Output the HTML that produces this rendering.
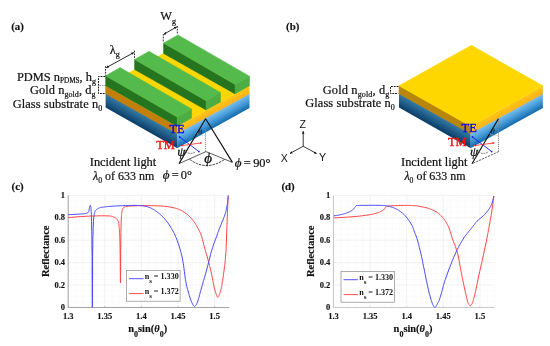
<!DOCTYPE html>
<html lang="en">
<head>
<meta charset="utf-8">
<title>Figure</title>
<style>
html,body{margin:0;padding:0;background:#fff;}
body{width:550px;height:346px;overflow:hidden;}
svg{display:block;}
text{font-family:"Liberation Serif","DejaVu Serif",serif;fill:#111;}
.pl{font-size:10.9px;font-weight:bold;stroke:#111;stroke-width:0.15px;}
.tx{font-size:12.4px;stroke:#111;stroke-width:0.22px;}
.sb{font-size:8px;}
.tk{font-size:8.5px;font-weight:bold;stroke:#111;stroke-width:0.12px;}
.al{font-size:10.4px;font-weight:bold;stroke:#111;stroke-width:0.15px;}
.lg{font-size:7.4px;font-weight:bold;}
.ss{font-family:"Liberation Sans","DejaVu Sans",sans-serif;font-size:10.6px;}
</style>
</head>
<body>
<svg width="550" height="346" viewBox="0 0 550 346">
<defs>
<marker id="ah" viewBox="0 0 6 6" refX="5" refY="3" markerWidth="3.2" markerHeight="3.2" orient="auto-start-reverse"><path d="M0 0.4 L6 3 L0 5.6 Z" fill="#111"/></marker>
<marker id="ahr" viewBox="0 0 6 6" refX="5" refY="3" markerWidth="3" markerHeight="3" orient="auto-start-reverse"><path d="M0 0.4 L6 3 L0 5.6 Z" fill="#ff2020"/></marker>
</defs>
<rect width="550" height="346" fill="#fff"/>

<g id="panel-a">
<linearGradient id="glLa" gradientUnits="userSpaceOnUse" x1="105.60" y1="93.70" x2="99.70" y2="104.20"><stop offset="0" stop-color="#347ca6"/><stop offset="1" stop-color="#0a3c68"/></linearGradient>
<linearGradient id="glRa" gradientUnits="userSpaceOnUse" x1="177.10" y1="133.70" x2="183.20" y2="144.60"><stop offset="0" stop-color="#7cc0ee"/><stop offset="0.5" stop-color="#479cd9"/><stop offset="1" stop-color="#166dac"/></linearGradient>
<linearGradient id="auRa" gradientUnits="userSpaceOnUse" x1="177.10" y1="126.20" x2="180.50" y2="132.20"><stop offset="0" stop-color="#ffc814"/><stop offset="1" stop-color="#f9b21c"/></linearGradient>
<polygon points="105.60,93.30 177.40,133.30 177.40,148.20 105.60,107.40" fill="url(#glLa)" stroke="none" stroke-width="0.5" stroke-linejoin="round"/>
<polygon points="177.10,133.30 249.50,93.60 249.50,107.90 177.10,148.20" fill="url(#glRa)" stroke="none" stroke-width="0.5" stroke-linejoin="round"/>
<polygon points="105.60,85.70 177.10,126.20 177.10,133.70 105.60,93.70" fill="#c2800a" stroke="#c2800a" stroke-width="0.5" stroke-linejoin="round"/>
<polygon points="177.10,126.20 249.50,85.80 249.50,94.00 177.10,133.70" fill="url(#auRa)" stroke="none" stroke-width="0.5" stroke-linejoin="round"/>
<polygon points="105.60,85.70 177.10,126.20 249.50,85.80 178.00,45.30" fill="#ffd700" stroke="#ffd700" stroke-width="0.5" stroke-linejoin="round"/>
<polygon points="163.52,43.08 235.02,84.38 235.02,93.88 163.52,53.38" fill="#25741f" stroke="#25741f" stroke-width="0.5" stroke-linejoin="round"/>
<polygon points="235.02,84.38 249.50,76.20 249.50,85.80 235.02,93.88" fill="#4bad43" stroke="#4bad43" stroke-width="0.5" stroke-linejoin="round"/>
<polygon points="163.52,43.08 178.00,34.90 249.50,76.20 235.02,84.38" fill="#54ba4c" stroke="#54ba4c" stroke-width="0.5" stroke-linejoin="round"/>
<polygon points="134.56,59.44 206.06,100.74 206.06,110.04 134.56,69.54" fill="#25741f" stroke="#25741f" stroke-width="0.5" stroke-linejoin="round"/>
<polygon points="206.06,100.74 220.54,92.56 220.54,101.96 206.06,110.04" fill="#4bad43" stroke="#4bad43" stroke-width="0.5" stroke-linejoin="round"/>
<polygon points="134.56,59.44 149.04,51.26 220.54,92.56 206.06,100.74" fill="#54ba4c" stroke="#54ba4c" stroke-width="0.5" stroke-linejoin="round"/>
<polygon points="105.60,75.80 177.10,117.10 177.10,126.20 105.60,85.70" fill="#25741f" stroke="#25741f" stroke-width="0.5" stroke-linejoin="round"/>
<polygon points="177.10,117.10 191.58,108.92 191.58,118.12 177.10,126.20" fill="#4bad43" stroke="#4bad43" stroke-width="0.5" stroke-linejoin="round"/>
<polygon points="105.60,75.80 120.08,67.62 191.58,108.92 177.10,117.10" fill="#54ba4c" stroke="#54ba4c" stroke-width="0.5" stroke-linejoin="round"/>
</g>
<g id="panel-b">
<linearGradient id="glLb" gradientUnits="userSpaceOnUse" x1="399.00" y1="93.70" x2="393.10" y2="104.20"><stop offset="0" stop-color="#347ca6"/><stop offset="1" stop-color="#0a3c68"/></linearGradient>
<linearGradient id="glRb" gradientUnits="userSpaceOnUse" x1="470.50" y1="133.70" x2="476.60" y2="144.60"><stop offset="0" stop-color="#7cc0ee"/><stop offset="0.5" stop-color="#479cd9"/><stop offset="1" stop-color="#166dac"/></linearGradient>
<linearGradient id="auRb" gradientUnits="userSpaceOnUse" x1="470.50" y1="126.20" x2="473.90" y2="132.20"><stop offset="0" stop-color="#ffc814"/><stop offset="1" stop-color="#f9b21c"/></linearGradient>
<polygon points="399.00,93.30 470.80,133.30 470.80,148.20 399.00,107.40" fill="url(#glLb)" stroke="none" stroke-width="0.5" stroke-linejoin="round"/>
<polygon points="470.50,133.30 542.90,93.60 542.90,107.90 470.50,148.20" fill="url(#glRb)" stroke="none" stroke-width="0.5" stroke-linejoin="round"/>
<polygon points="399.00,85.70 470.50,126.20 470.50,133.70 399.00,93.70" fill="#b8860b" stroke="#b8860b" stroke-width="0.5" stroke-linejoin="round"/>
<polygon points="470.50,126.20 542.90,85.80 542.90,94.00 470.50,133.70" fill="url(#auRb)" stroke="none" stroke-width="0.5" stroke-linejoin="round"/>
<polygon points="399.00,85.70 470.50,126.20 542.90,85.80 471.40,45.30" fill="#ffd700" stroke="#ffd700" stroke-width="0.5" stroke-linejoin="round"/>
</g>

<!-- panel labels -->
<text x="11.2" y="29.8" class="pl">(a)</text>
<text x="286" y="29.8" class="pl">(b)</text>
<text x="11.6" y="190.2" class="pl">(c)</text>
<text x="281.4" y="190.2" class="pl">(d)</text>

<!-- (a) layer labels -->
<text x="16.9" y="80.6" class="tx">PDMS n<tspan dy="2.6" font-size="7.2">PDMS</tspan><tspan dy="-2.6">, h</tspan><tspan dy="3" class="sb">g</tspan></text>
<text x="30" y="94.2" class="tx" textLength="65.5">Gold n<tspan dy="2.6" class="sb">gold</tspan><tspan dy="-2.6">, d</tspan><tspan dy="3" class="sb">g</tspan></text>
<text x="12.7" y="107.7" class="tx" textLength="89.5">Glass substrate n<tspan dy="2.8" class="sb">0</tspan></text>
<!-- brackets -->
<path d="M105.2 76.5 H98.5 V93.5 H105.2" fill="none" stroke="#111" stroke-width="1" stroke-dasharray="1.8 1"/>
<path d="M99.4 85.5 H105.2" fill="none" stroke="#666" stroke-width="0.7" stroke-dasharray="1.6 0.9"/>
<!-- lambda_g dimension -->
<path d="M105.6 66.2 V75.6 M134.5 50.6 V59" fill="none" stroke="#111" stroke-width="0.9" stroke-dasharray="1.7 1.1"/>
<line x1="106.4" y1="67.6" x2="133.7" y2="52.6" stroke="#111" stroke-width="0.9" marker-start="url(#ah)" marker-end="url(#ah)"/>
<text x="109.8" y="53.7" class="tx" font-size="12">λ<tspan dy="3.4" class="sb">g</tspan></text>
<!-- W_g dimension -->
<path d="M163.3 34 V42 M177.3 26 V34.4" fill="none" stroke="#111" stroke-width="0.9" stroke-dasharray="1.7 1.1"/>
<line x1="164" y1="34.2" x2="176.6" y2="26.9" stroke="#111" stroke-width="0.9" marker-start="url(#ah)" marker-end="url(#ah)"/>
<text x="160.2" y="20.1" class="tx" font-size="11.4">W<tspan dy="3.8" class="sb">g</tspan></text>

<!-- (a) incidence geometry -->
<g fill="none">
<line x1="205.5" y1="118.7" x2="205.5" y2="151.6" stroke="#8a8a8a" stroke-width="1" stroke-dasharray="1.2 0.9"/>
<path d="M206 151.6 L179 163.6 M206 151.6 L232.4 162.4" stroke="#333" stroke-width="0.8"/>
<path d="M205.6 118.7 L179 163.6 M205.6 118.7 L232.4 162.4" stroke="#111" stroke-width="1.15" stroke-linejoin="round"/>
<path d="M189.5 159.2 Q206 171.8 224.6 159.4" stroke="#2a2a2a" stroke-width="0.9" stroke-dasharray="2.6 0.9"/>
<path d="M197.2 133.2 Q201 136.6 205.7 135.2" stroke="#bbb" stroke-width="0.7" stroke-dasharray="1.6 0.8"/>
<path d="M185.6 152.2 Q190.6 154.6 195 152.2" stroke="#555" stroke-width="0.8" stroke-dasharray="1.8 0.8"/>
<line x1="179.8" y1="137.1" x2="198.8" y2="151.5" stroke="#1a1aff" stroke-width="0.9"/>
<line x1="180.8" y1="145.7" x2="201.6" y2="142.9" stroke="#ff2020" stroke-width="0.8" marker-start="url(#ahr)" marker-end="url(#ahr)"/>
</g>
<circle cx="179.7" cy="137" r="0.9" fill="#1a1aff"/><circle cx="198.9" cy="151.6" r="0.9" fill="#1a1aff"/>
<text x="169.4" y="133.4" class="tx" font-size="13.4" style="fill:#0a0ae6;stroke:#0a0ae6;stroke-width:0.4px">TE</text>
<text x="156.3" y="149" class="tx" font-size="13" style="fill:#f01414;stroke:#f01414;stroke-width:0.4px">TM</text>
<text x="177.2" y="155.6" font-size="13" font-style="italic" stroke="#111" stroke-width="0.3">ψ</text>
<text x="198.2" y="134.8" font-size="7.5" font-style="italic">θ</text>
<text x="204.2" y="163" font-size="15" font-style="italic" stroke="#111" stroke-width="0.3">ϕ</text>
<text x="162.8" y="179.4" class="tx"><tspan font-style="italic" font-size="13">ϕ</tspan><tspan dx="2.2">=</tspan><tspan dx="2">0°</tspan></text>
<text x="234.8" y="167.4" class="tx"><tspan font-style="italic" font-size="13">ϕ</tspan><tspan dx="2.2">=</tspan><tspan dx="2.4">90°</tspan></text>
<text x="89.8" y="165.8" class="tx">Incident light</text>
<text x="93.1" y="180" class="tx" textLength="61.1" lengthAdjust="spacingAndGlyphs"><tspan font-style="italic">λ</tspan><tspan dy="2.8" class="sb">0</tspan><tspan dy="-2.8"> of 633 nm</tspan></text>

<!-- axes triad -->
<g stroke="#222" stroke-width="0.9" fill="none">
<line x1="303.2" y1="146.3" x2="303.2" y2="131.4" marker-end="url(#ah)"/>
<line x1="303.2" y1="146.3" x2="290" y2="153.4" marker-end="url(#ah)"/>
<line x1="303.2" y1="146.3" x2="316.4" y2="153.4" marker-end="url(#ah)"/>
</g>
<text x="299.4" y="127.9" class="ss">Z</text>
<text x="280.8" y="161.6" class="ss">X</text>
<text x="318.9" y="160.5" class="ss">Y</text>

<!-- (b) layer labels -->
<text x="322.7" y="93.9" class="tx" textLength="66.6">Gold n<tspan dy="2.6" class="sb">gold</tspan><tspan dy="-2.6">, d</tspan><tspan dy="3" class="sb">g</tspan></text>
<text x="305.3" y="107.4" class="tx" textLength="89.4">Glass substrate n<tspan dy="2.8" class="sb">0</tspan></text>
<path d="M398.4 86.5 H390.5 V93.5 H398.4" fill="none" stroke="#111" stroke-width="1" stroke-dasharray="1.8 1"/>

<!-- (b) incidence geometry -->
<g fill="none">
<line x1="498.5" y1="118.7" x2="498.5" y2="151.6" stroke="#808080" stroke-width="1" stroke-dasharray="1.2 0.9"/>
<path d="M498.6 151.6 L472 163.8" stroke="#333" stroke-width="0.8" stroke-dasharray="2.2 1"/>
<path d="M498.4 118.7 L472 163.8" stroke="#111" stroke-width="1.15"/>
<path d="M489.6 133.2 Q493.6 136.6 498.4 135.2" stroke="#bbb" stroke-width="0.7" stroke-dasharray="1.6 0.8"/>
<path d="M478.4 152.2 Q483.4 154.6 487.8 152.2" stroke="#555" stroke-width="0.8" stroke-dasharray="1.8 0.8"/>
<line x1="472.6" y1="137.1" x2="491.6" y2="151.5" stroke="#1a1aff" stroke-width="0.9"/>
<line x1="473.6" y1="145.7" x2="494.4" y2="142.9" stroke="#ff2020" stroke-width="0.8" marker-start="url(#ahr)" marker-end="url(#ahr)"/>
</g>
<circle cx="472.5" cy="137" r="0.9" fill="#1a1aff"/><circle cx="491.7" cy="151.6" r="0.9" fill="#1a1aff"/>
<text x="461.6" y="132.4" class="tx" font-size="13.4" style="fill:#0a0ae6;stroke:#0a0ae6;stroke-width:0.4px">TE</text>
<text x="448" y="146.2" class="tx" font-size="13" style="fill:#f01414;stroke:#f01414;stroke-width:0.4px">TM</text>
<text x="470" y="155.6" font-size="13" font-style="italic" stroke="#111" stroke-width="0.3">ψ</text>
<text x="491" y="134.2" font-size="7.5" font-style="italic">θ</text>
<text x="401" y="166.4" class="tx">Incident light</text>
<text x="404.4" y="180" class="tx" textLength="61.1" lengthAdjust="spacingAndGlyphs"><tspan font-style="italic">λ</tspan><tspan dy="2.8" class="sb">0</tspan><tspan dy="-2.8"> of 633 nm</tspan></text>

<g id="chart-c">
<line x1="68.2" y1="195.4" x2="68.2" y2="307.5" stroke="#ececec" stroke-width="0.7"/>
<line x1="75.5" y1="195.4" x2="75.5" y2="307.5" stroke="#f7f7f7" stroke-width="0.5"/>
<line x1="82.8" y1="195.4" x2="82.8" y2="307.5" stroke="#f7f7f7" stroke-width="0.5"/>
<line x1="90.2" y1="195.4" x2="90.2" y2="307.5" stroke="#f7f7f7" stroke-width="0.5"/>
<line x1="97.5" y1="195.4" x2="97.5" y2="307.5" stroke="#f7f7f7" stroke-width="0.5"/>
<line x1="104.8" y1="195.4" x2="104.8" y2="307.5" stroke="#ececec" stroke-width="0.7"/>
<line x1="112.1" y1="195.4" x2="112.1" y2="307.5" stroke="#f7f7f7" stroke-width="0.5"/>
<line x1="119.4" y1="195.4" x2="119.4" y2="307.5" stroke="#f7f7f7" stroke-width="0.5"/>
<line x1="126.8" y1="195.4" x2="126.8" y2="307.5" stroke="#f7f7f7" stroke-width="0.5"/>
<line x1="134.1" y1="195.4" x2="134.1" y2="307.5" stroke="#f7f7f7" stroke-width="0.5"/>
<line x1="141.4" y1="195.4" x2="141.4" y2="307.5" stroke="#ececec" stroke-width="0.7"/>
<line x1="148.7" y1="195.4" x2="148.7" y2="307.5" stroke="#f7f7f7" stroke-width="0.5"/>
<line x1="156.0" y1="195.4" x2="156.0" y2="307.5" stroke="#f7f7f7" stroke-width="0.5"/>
<line x1="163.4" y1="195.4" x2="163.4" y2="307.5" stroke="#f7f7f7" stroke-width="0.5"/>
<line x1="170.7" y1="195.4" x2="170.7" y2="307.5" stroke="#f7f7f7" stroke-width="0.5"/>
<line x1="178.0" y1="195.4" x2="178.0" y2="307.5" stroke="#ececec" stroke-width="0.7"/>
<line x1="185.3" y1="195.4" x2="185.3" y2="307.5" stroke="#f7f7f7" stroke-width="0.5"/>
<line x1="192.6" y1="195.4" x2="192.6" y2="307.5" stroke="#f7f7f7" stroke-width="0.5"/>
<line x1="200.0" y1="195.4" x2="200.0" y2="307.5" stroke="#f7f7f7" stroke-width="0.5"/>
<line x1="207.3" y1="195.4" x2="207.3" y2="307.5" stroke="#f7f7f7" stroke-width="0.5"/>
<line x1="214.6" y1="195.4" x2="214.6" y2="307.5" stroke="#ececec" stroke-width="0.7"/>
<line x1="221.9" y1="195.4" x2="221.9" y2="307.5" stroke="#f7f7f7" stroke-width="0.5"/>
<line x1="229.2" y1="195.4" x2="229.2" y2="307.5" stroke="#f7f7f7" stroke-width="0.5"/>
<line x1="68.2" y1="307.5" x2="229.2" y2="307.5" stroke="#ececec" stroke-width="0.7"/>
<line x1="68.2" y1="301.9" x2="229.2" y2="301.9" stroke="#f7f7f7" stroke-width="0.5"/>
<line x1="68.2" y1="296.3" x2="229.2" y2="296.3" stroke="#f7f7f7" stroke-width="0.5"/>
<line x1="68.2" y1="290.7" x2="229.2" y2="290.7" stroke="#f7f7f7" stroke-width="0.5"/>
<line x1="68.2" y1="285.1" x2="229.2" y2="285.1" stroke="#ececec" stroke-width="0.7"/>
<line x1="68.2" y1="279.5" x2="229.2" y2="279.5" stroke="#f7f7f7" stroke-width="0.5"/>
<line x1="68.2" y1="273.9" x2="229.2" y2="273.9" stroke="#f7f7f7" stroke-width="0.5"/>
<line x1="68.2" y1="268.3" x2="229.2" y2="268.3" stroke="#f7f7f7" stroke-width="0.5"/>
<line x1="68.2" y1="262.7" x2="229.2" y2="262.7" stroke="#ececec" stroke-width="0.7"/>
<line x1="68.2" y1="257.1" x2="229.2" y2="257.1" stroke="#f7f7f7" stroke-width="0.5"/>
<line x1="68.2" y1="251.4" x2="229.2" y2="251.4" stroke="#f7f7f7" stroke-width="0.5"/>
<line x1="68.2" y1="245.8" x2="229.2" y2="245.8" stroke="#f7f7f7" stroke-width="0.5"/>
<line x1="68.2" y1="240.2" x2="229.2" y2="240.2" stroke="#ececec" stroke-width="0.7"/>
<line x1="68.2" y1="234.6" x2="229.2" y2="234.6" stroke="#f7f7f7" stroke-width="0.5"/>
<line x1="68.2" y1="229.0" x2="229.2" y2="229.0" stroke="#f7f7f7" stroke-width="0.5"/>
<line x1="68.2" y1="223.4" x2="229.2" y2="223.4" stroke="#f7f7f7" stroke-width="0.5"/>
<line x1="68.2" y1="217.8" x2="229.2" y2="217.8" stroke="#ececec" stroke-width="0.7"/>
<line x1="68.2" y1="212.2" x2="229.2" y2="212.2" stroke="#f7f7f7" stroke-width="0.5"/>
<line x1="68.2" y1="206.6" x2="229.2" y2="206.6" stroke="#f7f7f7" stroke-width="0.5"/>
<line x1="68.2" y1="201.0" x2="229.2" y2="201.0" stroke="#f7f7f7" stroke-width="0.5"/>
<line x1="68.2" y1="195.4" x2="229.2" y2="195.4" stroke="#ececec" stroke-width="0.7"/>
<path d="M68.2 195.4 V307.5 H229.2" fill="none" stroke="#9a9a9a" stroke-width="0.9"/>
<line x1="68.2" y1="307.5" x2="68.2" y2="306.0" stroke="#9a9a9a" stroke-width="0.6"/>
<text x="68.2" y="318.6" text-anchor="middle" class="tk">1.3</text>
<line x1="104.8" y1="307.5" x2="104.8" y2="306.0" stroke="#9a9a9a" stroke-width="0.6"/>
<text x="104.8" y="318.6" text-anchor="middle" class="tk">1.35</text>
<line x1="141.4" y1="307.5" x2="141.4" y2="306.0" stroke="#9a9a9a" stroke-width="0.6"/>
<text x="141.4" y="318.6" text-anchor="middle" class="tk">1.4</text>
<line x1="178.0" y1="307.5" x2="178.0" y2="306.0" stroke="#9a9a9a" stroke-width="0.6"/>
<text x="178.0" y="318.6" text-anchor="middle" class="tk">1.45</text>
<line x1="214.6" y1="307.5" x2="214.6" y2="306.0" stroke="#9a9a9a" stroke-width="0.6"/>
<text x="214.6" y="318.6" text-anchor="middle" class="tk">1.5</text>
<text x="65.0" y="310.1" text-anchor="end" class="tk">0</text>
<text x="65.0" y="287.7" text-anchor="end" class="tk">0.2</text>
<text x="65.0" y="265.3" text-anchor="end" class="tk">0.4</text>
<text x="65.0" y="242.8" text-anchor="end" class="tk">0.6</text>
<text x="65.0" y="220.4" text-anchor="end" class="tk">0.8</text>
<text x="65.0" y="198.0" text-anchor="end" class="tk">1</text>
<path d="M68.2 217.6 L69.1 217.5 L70.4 217.4 L71.8 217.3 L73.4 217.1 L75.2 217.0 L77.0 216.9 L78.8 216.7 L80.5 216.6 L82.2 216.5 L84.0 216.4 L85.9 216.3 L87.7 216.2 L89.6 216.1 L91.5 216.0 L93.3 216.0 L95.1 215.9 L96.9 215.9 L98.7 215.8 L100.5 215.8 L102.3 215.8 L104.0 215.8 L105.6 215.8 L107.0 215.9 L108.2 215.9 L109.2 215.9 L109.9 216.0 L110.5 216.1 L110.9 216.1 L111.3 216.2 L111.7 216.3 L112.1 216.5 L112.5 216.6 L113.0 216.8 L113.5 216.9 L114.0 217.1 L114.5 217.3 L114.9 217.5 L115.4 217.8 L115.8 218.1 L116.2 218.4 L116.6 218.7 L116.9 219.1 L117.2 219.5 L117.5 219.9 L117.7 220.4 L118.0 220.9 L118.2 221.4 L118.4 222.0 L118.6 222.6 L118.7 223.3 L118.8 224.0 L119.0 224.8 L119.0 225.6 L119.1 226.5 L119.2 227.4 L119.3 228.5 L119.4 229.6 L119.5 230.8 L119.6 232.1 L119.6 233.4 L119.7 234.8 L119.8 236.4 L119.8 238.1 L119.9 240.0 L120.0 242.1 L120.0 244.3 L120.1 246.8 L120.1 249.3 L120.1 251.9 L120.2 254.6 L120.2 257.3 L120.2 260.0 L120.3 263.0 L120.3 266.6 L120.3 270.3 L120.4 274.1 L120.4 277.5 L120.4 280.2 L120.4 282.1 L120.5 282.8 L120.5 282.1 L120.5 280.4 L120.5 277.7 L120.5 274.4 L120.6 270.7 L120.6 266.9 L120.6 263.3 L120.7 260.0 L120.7 256.9 L120.7 253.7 L120.7 250.4 L120.8 247.1 L120.8 243.8 L120.8 240.7 L120.9 237.7 L120.9 235.0 L120.9 232.5 L121.0 230.2 L121.0 228.0 L121.1 225.9 L121.1 224.0 L121.2 222.2 L121.2 220.5 L121.3 219.0 L121.4 217.7 L121.4 216.5 L121.5 215.5 L121.6 214.6 L121.6 213.8 L121.7 213.1 L121.8 212.5 L121.9 211.8 L122.0 211.2 L122.1 210.6 L122.2 210.2 L122.3 209.8 L122.4 209.4 L122.5 209.0 L122.7 208.7 L122.9 208.4 L123.1 208.1 L123.3 207.8 L123.6 207.6 L123.9 207.4 L124.2 207.2 L124.6 207.0 L125.0 206.9 L125.6 206.7 L126.3 206.6 L127.0 206.4 L127.7 206.3 L128.6 206.2 L129.5 206.1 L130.6 206.0 L131.7 206.0 L132.9 205.9 L134.3 205.8 L135.7 205.8 L137.3 205.7 L139.0 205.7 L140.7 205.6 L142.5 205.6 L144.3 205.6 L146.0 205.6 L147.8 205.6 L149.6 205.6 L151.5 205.7 L153.4 205.7 L155.3 205.8 L157.1 205.8 L158.9 205.9 L160.5 206.0 L162.0 206.1 L163.4 206.2 L164.7 206.3 L166.0 206.5 L167.2 206.6 L168.3 206.8 L169.5 207.0 L170.7 207.2 L171.9 207.4 L173.0 207.7 L174.2 207.9 L175.3 208.2 L176.4 208.5 L177.4 208.8 L178.5 209.2 L179.5 209.6 L180.5 210.0 L181.4 210.5 L182.4 211.0 L183.3 211.6 L184.2 212.2 L185.0 212.8 L185.9 213.4 L186.7 214.0 L187.5 214.7 L188.3 215.3 L189.0 216.0 L189.8 216.8 L190.5 217.5 L191.2 218.3 L191.9 219.0 L192.5 219.8 L193.1 220.6 L193.7 221.3 L194.3 222.1 L194.8 222.9 L195.3 223.7 L195.8 224.6 L196.4 225.5 L196.9 226.4 L197.4 227.3 L198.0 228.3 L198.5 229.3 L199.1 230.3 L199.6 231.4 L200.1 232.5 L200.6 233.7 L201.1 235.0 L201.6 236.4 L202.0 238.0 L202.5 239.6 L202.9 241.3 L203.4 243.0 L203.8 244.7 L204.2 246.4 L204.7 248.1 L205.2 249.7 L205.6 251.4 L206.1 253.1 L206.6 254.7 L207.1 256.4 L207.5 258.0 L208.0 259.6 L208.4 261.2 L208.8 262.7 L209.2 264.1 L209.5 265.5 L209.9 266.9 L210.2 268.3 L210.6 269.7 L210.9 271.2 L211.3 272.8 L211.7 274.5 L212.0 276.4 L212.4 278.4 L212.8 280.4 L213.2 282.4 L213.5 284.3 L213.9 286.0 L214.2 287.5 L214.5 288.8 L214.8 289.9 L215.1 291.0 L215.4 291.9 L215.7 292.7 L215.9 293.4 L216.2 294.1 L216.4 294.7 L216.6 295.3 L216.8 295.8 L217.0 296.2 L217.1 296.6 L217.3 296.9 L217.5 297.1 L217.6 297.3 L217.8 297.3 L218.0 297.2 L218.2 297.0 L218.4 296.8 L218.6 296.4 L218.8 296.0 L219.0 295.5 L219.2 295.1 L219.4 294.7 L219.6 294.3 L219.7 294.0 L219.9 293.6 L220.0 293.2 L220.1 292.7 L220.3 292.2 L220.4 291.7 L220.6 291.0 L220.8 290.2 L221.0 289.4 L221.2 288.6 L221.4 287.6 L221.6 286.6 L221.8 285.5 L222.0 284.4 L222.2 283.1 L222.4 281.7 L222.7 280.3 L222.9 278.7 L223.1 277.1 L223.4 275.4 L223.6 273.6 L223.9 271.8 L224.1 270.0 L224.3 268.2 L224.6 266.4 L224.8 264.5 L225.0 262.6 L225.2 260.6 L225.4 258.5 L225.6 256.3 L225.8 253.9 L226.0 251.3 L226.1 248.4 L226.2 245.4 L226.4 242.3 L226.5 239.1 L226.6 236.0 L226.7 232.9 L226.8 230.0 L226.9 227.2 L227.0 224.3 L227.1 221.5 L227.2 218.8 L227.3 216.1 L227.4 213.6 L227.5 211.1 L227.6 208.9 L227.7 206.8 L227.8 204.7 L227.9 202.8 L227.9 200.9 L228.0 199.3 L228.1 197.8 L228.2 196.6 L228.2 195.6" fill="none" stroke="#ff4242" stroke-width="1.0" stroke-linejoin="round"/>
<path d="M68.2 214.7 L69.2 214.6 L70.6 214.6 L72.2 214.5 L74.0 214.4 L75.8 214.3 L77.6 214.2 L79.2 214.1 L80.5 214.0 L81.6 213.9 L82.5 213.8 L83.3 213.8 L84.1 213.7 L84.7 213.6 L85.3 213.5 L85.9 213.4 L86.4 213.3 L86.9 213.2 L87.2 213.0 L87.5 212.9 L87.8 212.8 L88.0 212.6 L88.1 212.4 L88.3 212.1 L88.5 211.8 L88.7 211.4 L88.8 210.9 L89.0 210.3 L89.1 209.7 L89.2 209.1 L89.3 208.5 L89.4 208.0 L89.5 207.5 L89.6 207.1 L89.7 206.7 L89.8 206.4 L89.9 206.1 L90.0 205.8 L90.0 205.6 L90.1 205.4 L90.2 205.4 L90.3 205.4 L90.4 205.4 L90.5 205.5 L90.6 205.6 L90.6 205.8 L90.7 206.2 L90.8 206.8 L90.9 207.5 L91.0 208.4 L91.1 209.3 L91.1 210.3 L91.2 211.4 L91.3 212.8 L91.4 214.5 L91.4 216.6 L91.5 219.0 L91.6 221.8 L91.6 224.8 L91.7 228.0 L91.8 231.6 L91.8 235.6 L91.9 239.9 L91.9 244.7 L92.0 250.0 L92.1 256.7 L92.1 265.2 L92.1 274.6 L92.2 284.2 L92.2 293.1 L92.3 300.4 L92.3 305.4 L92.3 307.3 L92.4 305.4 L92.4 300.3 L92.5 292.8 L92.5 283.8 L92.6 274.2 L92.6 264.7 L92.6 256.4 L92.7 250.0 L92.8 245.2 L92.8 241.1 L92.9 237.6 L93.0 234.5 L93.1 231.8 L93.1 229.4 L93.2 227.2 L93.3 225.0 L93.4 223.0 L93.5 221.4 L93.5 220.1 L93.6 218.9 L93.7 218.0 L93.8 217.1 L93.9 216.3 L94.0 215.5 L94.1 214.7 L94.2 214.1 L94.3 213.5 L94.5 213.0 L94.6 212.6 L94.7 212.2 L94.8 211.9 L95.0 211.5 L95.2 211.1 L95.3 210.8 L95.5 210.6 L95.7 210.3 L95.9 210.1 L96.1 209.9 L96.3 209.7 L96.5 209.5 L96.7 209.3 L97.0 209.1 L97.2 208.9 L97.5 208.8 L97.8 208.6 L98.1 208.5 L98.4 208.3 L98.7 208.2 L99.1 208.1 L99.4 207.9 L99.8 207.8 L100.2 207.7 L100.6 207.6 L101.1 207.5 L101.5 207.4 L102.0 207.3 L102.5 207.2 L103.0 207.1 L103.5 207.1 L104.1 207.0 L104.7 206.9 L105.3 206.8 L106.0 206.8 L106.7 206.7 L107.5 206.6 L108.3 206.5 L109.2 206.5 L110.2 206.4 L111.1 206.3 L112.1 206.2 L113.1 206.2 L114.0 206.1 L114.9 206.0 L115.7 206.0 L116.5 205.9 L117.4 205.9 L118.2 205.8 L119.2 205.8 L120.2 205.7 L121.3 205.7 L122.6 205.7 L124.0 205.6 L125.5 205.6 L127.1 205.5 L128.7 205.5 L130.2 205.4 L131.6 205.4 L132.9 205.4 L134.0 205.4 L135.0 205.4 L135.9 205.4 L136.8 205.4 L137.6 205.5 L138.4 205.5 L139.2 205.5 L140.0 205.6 L140.8 205.7 L141.6 205.7 L142.3 205.8 L143.1 205.9 L143.8 206.0 L144.5 206.1 L145.3 206.2 L146.0 206.4 L146.7 206.6 L147.5 206.8 L148.2 207.0 L148.9 207.3 L149.6 207.5 L150.4 207.8 L151.1 208.1 L151.8 208.5 L152.5 208.9 L153.2 209.3 L154.0 209.7 L154.7 210.2 L155.4 210.7 L156.1 211.2 L156.9 211.7 L157.6 212.3 L158.3 212.9 L159.1 213.5 L159.8 214.1 L160.5 214.7 L161.3 215.4 L162.0 216.1 L162.8 216.8 L163.5 217.6 L164.2 218.4 L165.0 219.2 L165.7 220.1 L166.4 220.9 L167.1 221.9 L167.9 222.8 L168.6 223.8 L169.3 224.9 L170.0 226.0 L170.7 227.2 L171.5 228.4 L172.2 229.7 L172.9 231.0 L173.6 232.3 L174.3 233.6 L174.9 235.0 L175.5 236.4 L176.1 237.7 L176.7 239.1 L177.2 240.5 L177.8 242.0 L178.3 243.5 L178.8 245.0 L179.3 246.6 L179.8 248.2 L180.3 249.9 L180.7 251.6 L181.2 253.3 L181.6 255.2 L182.1 257.1 L182.5 259.1 L182.9 261.2 L183.3 263.5 L183.7 266.1 L184.0 268.8 L184.4 271.6 L184.7 274.3 L185.1 277.0 L185.4 279.4 L185.8 281.6 L186.2 283.5 L186.5 285.2 L186.9 286.8 L187.2 288.2 L187.6 289.5 L188.0 290.8 L188.3 292.0 L188.7 293.3 L189.1 294.6 L189.4 295.8 L189.8 297.0 L190.1 298.1 L190.5 299.2 L190.9 300.2 L191.2 301.1 L191.6 302.0 L192.0 302.8 L192.3 303.6 L192.7 304.4 L193.0 305.0 L193.4 305.6 L193.8 306.0 L194.1 306.3 L194.5 306.4 L194.9 306.3 L195.2 306.1 L195.6 305.6 L196.0 305.1 L196.4 304.5 L196.8 303.7 L197.1 302.9 L197.5 302.0 L197.9 301.0 L198.2 299.9 L198.6 298.6 L199.0 297.3 L199.3 295.9 L199.7 294.5 L200.0 293.1 L200.4 291.8 L200.8 290.5 L201.1 289.3 L201.5 288.0 L201.8 286.8 L202.2 285.5 L202.5 284.2 L202.9 282.9 L203.3 281.6 L203.7 280.3 L204.0 279.0 L204.4 277.7 L204.8 276.4 L205.2 275.1 L205.6 273.6 L206.1 271.9 L206.6 270.0 L207.2 267.8 L207.8 265.4 L208.5 262.7 L209.2 259.9 L209.9 257.1 L210.6 254.4 L211.3 251.8 L212.0 249.5 L212.7 247.4 L213.3 245.3 L214.0 243.3 L214.7 241.5 L215.4 239.7 L216.0 238.0 L216.6 236.5 L217.1 235.0 L217.6 233.7 L217.9 232.6 L218.3 231.7 L218.6 230.8 L218.9 230.0 L219.2 229.1 L219.6 228.2 L220.0 227.1 L220.5 225.9 L221.0 224.5 L221.6 223.1 L222.2 221.6 L222.9 220.2 L223.4 218.7 L223.9 217.4 L224.4 216.2 L224.8 215.1 L225.1 214.1 L225.4 213.2 L225.7 212.3 L225.9 211.5 L226.1 210.6 L226.3 209.8 L226.5 208.9 L226.7 208.0 L226.9 207.0 L227.0 206.1 L227.2 205.2 L227.3 204.2 L227.5 203.3 L227.6 202.5 L227.7 201.6 L227.8 200.7 L227.9 199.9 L228.0 199.0 L228.0 198.1 L228.1 197.4 L228.1 196.6 L228.2 196.1 L228.2 195.6" fill="none" stroke="#4646ff" stroke-width="1.0" stroke-linejoin="round"/>
<text transform="translate(48.9 251.3) rotate(-90)" text-anchor="middle" class="al">Reflectance</text>
<text x="128.3" y="332.3" class="al">n<tspan dy="4.4" font-size="8">0</tspan><tspan dy="-4.4">sin(</tspan><tspan font-style="italic">θ</tspan><tspan dy="4.4" font-size="8">0</tspan><tspan dy="-4.4">)</tspan></text>
<rect x="126.6" y="270.6" width="53.5" height="30.6" fill="#fff" stroke="#8a8a8a" stroke-width="0.7"/>
<line x1="129.2" y1="278.7" x2="143.5" y2="278.7" stroke="#4040ff" stroke-width="0.9"/>
<text x="144.8" y="279.0" class="lg" textLength="34" lengthAdjust="spacingAndGlyphs">n<tspan dy="3.8" font-size="6.4">s</tspan><tspan dy="-3.8" dx="1.6">= 1.330</tspan></text>
<line x1="129.2" y1="293.6" x2="143.5" y2="293.6" stroke="#ff3c3c" stroke-width="0.9"/>
<text x="144.8" y="293.9" class="lg" textLength="34" lengthAdjust="spacingAndGlyphs">n<tspan dy="3.8" font-size="6.4">s</tspan><tspan dy="-3.8" dx="1.6">= 1.372</tspan></text>
</g>
<g id="chart-d">
<line x1="333.5" y1="195.4" x2="333.5" y2="307.5" stroke="#ececec" stroke-width="0.7"/>
<line x1="340.8" y1="195.4" x2="340.8" y2="307.5" stroke="#f7f7f7" stroke-width="0.5"/>
<line x1="348.1" y1="195.4" x2="348.1" y2="307.5" stroke="#f7f7f7" stroke-width="0.5"/>
<line x1="355.5" y1="195.4" x2="355.5" y2="307.5" stroke="#f7f7f7" stroke-width="0.5"/>
<line x1="362.8" y1="195.4" x2="362.8" y2="307.5" stroke="#f7f7f7" stroke-width="0.5"/>
<line x1="370.1" y1="195.4" x2="370.1" y2="307.5" stroke="#ececec" stroke-width="0.7"/>
<line x1="377.4" y1="195.4" x2="377.4" y2="307.5" stroke="#f7f7f7" stroke-width="0.5"/>
<line x1="384.7" y1="195.4" x2="384.7" y2="307.5" stroke="#f7f7f7" stroke-width="0.5"/>
<line x1="392.1" y1="195.4" x2="392.1" y2="307.5" stroke="#f7f7f7" stroke-width="0.5"/>
<line x1="399.4" y1="195.4" x2="399.4" y2="307.5" stroke="#f7f7f7" stroke-width="0.5"/>
<line x1="406.7" y1="195.4" x2="406.7" y2="307.5" stroke="#ececec" stroke-width="0.7"/>
<line x1="414.0" y1="195.4" x2="414.0" y2="307.5" stroke="#f7f7f7" stroke-width="0.5"/>
<line x1="421.3" y1="195.4" x2="421.3" y2="307.5" stroke="#f7f7f7" stroke-width="0.5"/>
<line x1="428.7" y1="195.4" x2="428.7" y2="307.5" stroke="#f7f7f7" stroke-width="0.5"/>
<line x1="436.0" y1="195.4" x2="436.0" y2="307.5" stroke="#f7f7f7" stroke-width="0.5"/>
<line x1="443.3" y1="195.4" x2="443.3" y2="307.5" stroke="#ececec" stroke-width="0.7"/>
<line x1="450.6" y1="195.4" x2="450.6" y2="307.5" stroke="#f7f7f7" stroke-width="0.5"/>
<line x1="457.9" y1="195.4" x2="457.9" y2="307.5" stroke="#f7f7f7" stroke-width="0.5"/>
<line x1="465.3" y1="195.4" x2="465.3" y2="307.5" stroke="#f7f7f7" stroke-width="0.5"/>
<line x1="472.6" y1="195.4" x2="472.6" y2="307.5" stroke="#f7f7f7" stroke-width="0.5"/>
<line x1="479.9" y1="195.4" x2="479.9" y2="307.5" stroke="#ececec" stroke-width="0.7"/>
<line x1="487.2" y1="195.4" x2="487.2" y2="307.5" stroke="#f7f7f7" stroke-width="0.5"/>
<line x1="494.5" y1="195.4" x2="494.5" y2="307.5" stroke="#f7f7f7" stroke-width="0.5"/>
<line x1="333.5" y1="307.5" x2="494.5" y2="307.5" stroke="#ececec" stroke-width="0.7"/>
<line x1="333.5" y1="301.9" x2="494.5" y2="301.9" stroke="#f7f7f7" stroke-width="0.5"/>
<line x1="333.5" y1="296.3" x2="494.5" y2="296.3" stroke="#f7f7f7" stroke-width="0.5"/>
<line x1="333.5" y1="290.7" x2="494.5" y2="290.7" stroke="#f7f7f7" stroke-width="0.5"/>
<line x1="333.5" y1="285.1" x2="494.5" y2="285.1" stroke="#ececec" stroke-width="0.7"/>
<line x1="333.5" y1="279.5" x2="494.5" y2="279.5" stroke="#f7f7f7" stroke-width="0.5"/>
<line x1="333.5" y1="273.9" x2="494.5" y2="273.9" stroke="#f7f7f7" stroke-width="0.5"/>
<line x1="333.5" y1="268.3" x2="494.5" y2="268.3" stroke="#f7f7f7" stroke-width="0.5"/>
<line x1="333.5" y1="262.7" x2="494.5" y2="262.7" stroke="#ececec" stroke-width="0.7"/>
<line x1="333.5" y1="257.1" x2="494.5" y2="257.1" stroke="#f7f7f7" stroke-width="0.5"/>
<line x1="333.5" y1="251.4" x2="494.5" y2="251.4" stroke="#f7f7f7" stroke-width="0.5"/>
<line x1="333.5" y1="245.8" x2="494.5" y2="245.8" stroke="#f7f7f7" stroke-width="0.5"/>
<line x1="333.5" y1="240.2" x2="494.5" y2="240.2" stroke="#ececec" stroke-width="0.7"/>
<line x1="333.5" y1="234.6" x2="494.5" y2="234.6" stroke="#f7f7f7" stroke-width="0.5"/>
<line x1="333.5" y1="229.0" x2="494.5" y2="229.0" stroke="#f7f7f7" stroke-width="0.5"/>
<line x1="333.5" y1="223.4" x2="494.5" y2="223.4" stroke="#f7f7f7" stroke-width="0.5"/>
<line x1="333.5" y1="217.8" x2="494.5" y2="217.8" stroke="#ececec" stroke-width="0.7"/>
<line x1="333.5" y1="212.2" x2="494.5" y2="212.2" stroke="#f7f7f7" stroke-width="0.5"/>
<line x1="333.5" y1="206.6" x2="494.5" y2="206.6" stroke="#f7f7f7" stroke-width="0.5"/>
<line x1="333.5" y1="201.0" x2="494.5" y2="201.0" stroke="#f7f7f7" stroke-width="0.5"/>
<line x1="333.5" y1="195.4" x2="494.5" y2="195.4" stroke="#ececec" stroke-width="0.7"/>
<path d="M333.5 195.4 V307.5 H494.5" fill="none" stroke="#c4c4c4" stroke-width="0.9"/>
<line x1="333.5" y1="307.5" x2="333.5" y2="306.0" stroke="#c4c4c4" stroke-width="0.6"/>
<text x="333.5" y="318.6" text-anchor="middle" class="tk">1.3</text>
<line x1="370.1" y1="307.5" x2="370.1" y2="306.0" stroke="#c4c4c4" stroke-width="0.6"/>
<text x="370.1" y="318.6" text-anchor="middle" class="tk">1.35</text>
<line x1="406.7" y1="307.5" x2="406.7" y2="306.0" stroke="#c4c4c4" stroke-width="0.6"/>
<text x="406.7" y="318.6" text-anchor="middle" class="tk">1.4</text>
<line x1="443.3" y1="307.5" x2="443.3" y2="306.0" stroke="#c4c4c4" stroke-width="0.6"/>
<text x="443.3" y="318.6" text-anchor="middle" class="tk">1.45</text>
<line x1="479.9" y1="307.5" x2="479.9" y2="306.0" stroke="#c4c4c4" stroke-width="0.6"/>
<text x="479.9" y="318.6" text-anchor="middle" class="tk">1.5</text>
<text x="330.3" y="310.1" text-anchor="end" class="tk">0</text>
<text x="330.3" y="287.7" text-anchor="end" class="tk">0.2</text>
<text x="330.3" y="265.3" text-anchor="end" class="tk">0.4</text>
<text x="330.3" y="242.8" text-anchor="end" class="tk">0.6</text>
<text x="330.3" y="220.4" text-anchor="end" class="tk">0.8</text>
<text x="330.3" y="198.0" text-anchor="end" class="tk">1</text>
<path d="M333.7 217.9 L334.7 217.9 L336.0 217.8 L337.5 217.7 L339.2 217.6 L341.0 217.5 L342.9 217.4 L344.7 217.3 L346.5 217.2 L348.3 217.1 L350.1 216.9 L352.0 216.8 L354.0 216.6 L355.9 216.4 L357.7 216.3 L359.5 216.1 L361.1 215.9 L362.6 215.7 L364.0 215.5 L365.4 215.4 L366.7 215.2 L367.9 215.0 L369.1 214.8 L370.2 214.6 L371.3 214.4 L372.4 214.2 L373.4 214.0 L374.3 213.7 L375.3 213.5 L376.1 213.2 L377.0 213.0 L377.8 212.7 L378.5 212.5 L379.2 212.2 L379.8 212.0 L380.5 211.7 L381.0 211.5 L381.5 211.2 L382.0 211.0 L382.5 210.7 L382.9 210.4 L383.3 210.1 L383.6 209.8 L383.9 209.5 L384.2 209.1 L384.4 208.8 L384.7 208.5 L384.9 208.2 L385.1 207.9 L385.3 207.6 L385.5 207.4 L385.7 207.2 L385.8 207.0 L386.0 206.8 L386.2 206.6 L386.3 206.4 L386.5 206.3 L386.7 206.2 L386.8 206.1 L386.9 206.1 L387.0 206.0 L387.2 206.0 L387.4 206.0 L387.6 205.9 L388.0 205.9 L388.4 205.9 L388.9 205.8 L389.4 205.8 L389.9 205.8 L390.6 205.8 L391.3 205.8 L392.1 205.7 L393.1 205.7 L394.3 205.7 L395.7 205.6 L397.2 205.6 L398.8 205.5 L400.4 205.5 L402.0 205.4 L403.4 205.4 L404.7 205.4 L405.8 205.4 L406.7 205.4 L407.6 205.4 L408.4 205.4 L409.2 205.4 L410.0 205.4 L410.8 205.4 L411.7 205.5 L412.6 205.6 L413.6 205.6 L414.6 205.7 L415.6 205.8 L416.6 205.9 L417.6 206.1 L418.7 206.2 L419.8 206.4 L421.0 206.6 L422.2 206.9 L423.4 207.1 L424.7 207.4 L426.0 207.7 L427.2 208.0 L428.4 208.4 L429.6 208.8 L430.7 209.2 L431.8 209.7 L432.9 210.1 L433.9 210.6 L435.0 211.2 L436.0 211.7 L436.9 212.3 L437.8 212.9 L438.6 213.5 L439.4 214.2 L440.2 214.8 L440.9 215.5 L441.6 216.2 L442.3 217.0 L442.9 217.8 L443.6 218.6 L444.3 219.5 L444.9 220.4 L445.5 221.3 L446.1 222.2 L446.7 223.2 L447.3 224.3 L447.9 225.5 L448.5 226.8 L449.1 228.2 L449.6 229.8 L450.2 231.4 L450.7 233.1 L451.3 234.8 L451.8 236.6 L452.3 238.3 L452.9 240.0 L453.5 241.6 L454.1 243.2 L454.7 244.8 L455.3 246.3 L455.9 248.0 L456.4 249.6 L457.0 251.3 L457.5 253.1 L458.0 255.0 L458.4 257.0 L458.8 259.0 L459.2 261.1 L459.6 263.2 L459.9 265.3 L460.3 267.4 L460.7 269.5 L461.1 271.5 L461.5 273.6 L461.9 275.7 L462.3 277.7 L462.7 279.8 L463.2 281.8 L463.6 283.8 L464.0 285.8 L464.5 287.9 L464.9 290.0 L465.4 292.2 L465.9 294.4 L466.4 296.4 L466.8 298.3 L467.3 300.0 L467.6 301.3 L467.9 302.3 L468.1 303.0 L468.3 303.5 L468.5 303.8 L468.6 304.0 L468.7 304.2 L468.8 304.4 L469.0 304.6 L469.2 304.9 L469.3 305.1 L469.5 305.3 L469.6 305.5 L469.8 305.7 L469.9 305.8 L470.1 305.9 L470.2 305.9 L470.3 305.9 L470.5 305.8 L470.6 305.7 L470.8 305.5 L470.9 305.3 L471.1 305.1 L471.2 304.9 L471.4 304.6 L471.6 304.3 L471.8 304.1 L471.9 303.8 L472.1 303.5 L472.3 303.1 L472.5 302.6 L472.8 302.0 L473.0 301.3 L473.3 300.4 L473.5 299.4 L473.8 298.4 L474.1 297.2 L474.5 295.9 L474.8 294.5 L475.1 293.0 L475.5 291.5 L475.9 289.9 L476.2 288.1 L476.6 286.2 L477.0 284.3 L477.4 282.2 L477.8 280.2 L478.3 278.1 L478.7 276.0 L479.2 273.9 L479.7 271.7 L480.2 269.4 L480.7 267.2 L481.2 264.9 L481.8 262.6 L482.3 260.3 L482.8 258.0 L483.3 255.7 L483.8 253.3 L484.3 250.9 L484.8 248.5 L485.3 246.2 L485.8 244.0 L486.2 241.9 L486.6 240.0 L486.9 238.4 L487.2 237.0 L487.4 235.8 L487.6 234.7 L487.8 233.5 L488.1 232.3 L488.3 230.9 L488.6 229.3 L489.0 227.4 L489.3 225.2 L489.8 223.0 L490.2 220.6 L490.6 218.2 L491.1 215.8 L491.4 213.5 L491.8 211.3 L492.1 209.2 L492.4 206.9 L492.7 204.7 L493.0 202.5 L493.2 200.5 L493.5 198.7 L493.7 197.2 L493.8 196.0" fill="none" stroke="#ff4242" stroke-width="1.0" stroke-linejoin="round"/>
<path d="M333.7 215.9 L334.2 215.8 L335.0 215.7 L335.8 215.6 L336.7 215.4 L337.7 215.3 L338.8 215.1 L339.8 214.9 L340.7 214.7 L341.6 214.5 L342.6 214.2 L343.5 214.0 L344.5 213.7 L345.5 213.4 L346.4 213.1 L347.2 212.8 L348.0 212.5 L348.7 212.2 L349.3 211.9 L349.9 211.6 L350.5 211.3 L351.0 211.0 L351.5 210.7 L352.0 210.4 L352.4 210.1 L352.8 209.8 L353.2 209.4 L353.6 209.0 L353.9 208.6 L354.2 208.2 L354.5 207.8 L354.7 207.5 L355.0 207.2 L355.2 206.9 L355.4 206.7 L355.6 206.5 L355.7 206.3 L355.9 206.1 L356.0 206.0 L356.2 205.8 L356.3 205.7 L356.4 205.6 L356.4 205.6 L356.3 205.5 L356.3 205.5 L356.3 205.5 L356.5 205.5 L356.9 205.5 L357.5 205.5 L358.4 205.5 L359.5 205.4 L360.8 205.4 L362.2 205.4 L363.7 205.4 L365.3 205.3 L366.9 205.3 L368.4 205.3 L370.0 205.3 L371.7 205.3 L373.4 205.3 L375.2 205.3 L376.9 205.3 L378.6 205.3 L380.1 205.3 L381.5 205.4 L382.7 205.5 L383.7 205.5 L384.7 205.6 L385.6 205.7 L386.4 205.9 L387.1 206.0 L387.9 206.1 L388.7 206.3 L389.5 206.5 L390.2 206.7 L391.0 206.9 L391.7 207.1 L392.4 207.3 L393.1 207.6 L393.8 207.9 L394.5 208.2 L395.2 208.5 L396.0 208.9 L396.7 209.2 L397.5 209.6 L398.2 210.0 L398.9 210.5 L399.7 211.0 L400.4 211.5 L401.1 212.1 L401.9 212.6 L402.6 213.3 L403.3 213.9 L404.1 214.6 L404.8 215.3 L405.5 216.1 L406.2 216.9 L406.9 217.8 L407.7 218.8 L408.4 219.8 L409.2 220.9 L409.9 221.9 L410.5 223.0 L411.2 224.0 L411.7 224.9 L412.1 225.7 L412.5 226.5 L412.8 227.2 L413.0 227.8 L413.3 228.5 L413.5 229.2 L413.8 230.0 L414.1 230.9 L414.5 231.8 L414.8 232.8 L415.2 233.8 L415.6 234.8 L416.1 235.9 L416.5 237.1 L416.9 238.5 L417.4 240.0 L417.9 241.7 L418.4 243.5 L418.9 245.5 L419.4 247.5 L419.9 249.7 L420.5 251.9 L421.0 254.1 L421.5 256.4 L422.0 258.7 L422.5 261.2 L423.0 263.7 L423.5 266.3 L424.1 268.8 L424.6 271.3 L425.0 273.7 L425.5 276.0 L425.9 278.2 L426.4 280.3 L426.8 282.3 L427.2 284.3 L427.6 286.2 L428.0 288.0 L428.4 289.8 L428.8 291.5 L429.2 293.2 L429.7 294.8 L430.1 296.4 L430.6 298.0 L431.0 299.4 L431.4 300.7 L431.8 301.9 L432.1 302.9 L432.4 303.7 L432.6 304.3 L432.8 304.8 L433.0 305.2 L433.1 305.5 L433.3 305.7 L433.4 305.9 L433.6 306.2 L433.8 306.5 L433.9 306.7 L434.1 306.9 L434.3 307.1 L434.4 307.2 L434.6 307.3 L434.7 307.4 L434.9 307.4 L435.1 307.4 L435.2 307.3 L435.4 307.2 L435.5 307.1 L435.7 306.9 L435.9 306.7 L436.0 306.5 L436.2 306.2 L436.4 305.9 L436.6 305.5 L436.8 305.1 L437.0 304.7 L437.2 304.2 L437.4 303.8 L437.6 303.3 L437.8 302.9 L438.0 302.5 L438.2 302.3 L438.3 302.0 L438.5 301.7 L438.7 301.4 L438.9 301.0 L439.1 300.5 L439.3 299.9 L439.6 299.1 L439.9 298.2 L440.2 297.2 L440.5 296.1 L440.9 295.0 L441.2 293.9 L441.6 292.7 L441.9 291.5 L442.2 290.3 L442.5 289.2 L442.8 288.0 L443.1 286.8 L443.4 285.6 L443.8 284.2 L444.2 282.8 L444.7 281.3 L445.3 279.6 L445.9 277.8 L446.5 276.0 L447.2 274.0 L448.0 272.0 L448.7 270.0 L449.5 268.0 L450.2 266.1 L451.0 264.2 L451.7 262.2 L452.5 260.3 L453.3 258.3 L454.2 256.4 L455.0 254.5 L455.8 252.7 L456.6 251.0 L457.4 249.3 L458.2 247.7 L459.0 246.2 L459.8 244.7 L460.7 243.2 L461.5 241.8 L462.3 240.4 L463.1 239.1 L463.9 237.8 L464.8 236.6 L465.6 235.5 L466.5 234.3 L467.3 233.3 L468.1 232.3 L468.9 231.3 L469.6 230.4 L470.3 229.6 L470.9 228.8 L471.5 228.1 L472.0 227.4 L472.5 226.8 L473.0 226.2 L473.5 225.6 L474.0 225.0 L474.4 224.5 L474.8 224.0 L475.1 223.5 L475.4 223.1 L475.7 222.6 L476.1 222.2 L476.6 221.7 L477.1 221.1 L477.8 220.5 L478.5 219.8 L479.4 219.1 L480.3 218.4 L481.2 217.6 L482.1 216.9 L482.9 216.1 L483.7 215.4 L484.4 214.7 L485.1 214.0 L485.7 213.2 L486.4 212.5 L487.0 211.8 L487.5 211.0 L488.1 210.3 L488.6 209.6 L489.1 208.9 L489.5 208.2 L490.0 207.6 L490.4 206.9 L490.8 206.2 L491.1 205.5 L491.5 204.7 L491.8 203.9 L492.1 203.0 L492.4 201.9 L492.7 200.8 L493.0 199.6 L493.2 198.5 L493.5 197.5 L493.7 196.6 L493.8 196.0" fill="none" stroke="#4646ff" stroke-width="1.0" stroke-linejoin="round"/>
<text transform="translate(314.2 251.3) rotate(-90)" text-anchor="middle" class="al">Reflectance</text>
<text x="393.6" y="332.3" class="al">n<tspan dy="4.4" font-size="8">0</tspan><tspan dy="-4.4">sin(</tspan><tspan font-style="italic">θ</tspan><tspan dy="4.4" font-size="8">0</tspan><tspan dy="-4.4">)</tspan></text>
<rect x="341.0" y="271.6" width="53.5" height="30.6" fill="#fff" stroke="#8a8a8a" stroke-width="0.7"/>
<line x1="343.6" y1="279.7" x2="357.9" y2="279.7" stroke="#4040ff" stroke-width="0.9"/>
<text x="359.2" y="280.0" class="lg" textLength="34" lengthAdjust="spacingAndGlyphs">n<tspan dy="3.8" font-size="6.4">s</tspan><tspan dy="-3.8" dx="1.6">= 1.330</tspan></text>
<line x1="343.6" y1="294.6" x2="357.9" y2="294.6" stroke="#ff3c3c" stroke-width="0.9"/>
<text x="359.2" y="294.9" class="lg" textLength="34" lengthAdjust="spacingAndGlyphs">n<tspan dy="3.8" font-size="6.4">s</tspan><tspan dy="-3.8" dx="1.6">= 1.372</tspan></text>
</g>
</svg>
</body>
</html>
